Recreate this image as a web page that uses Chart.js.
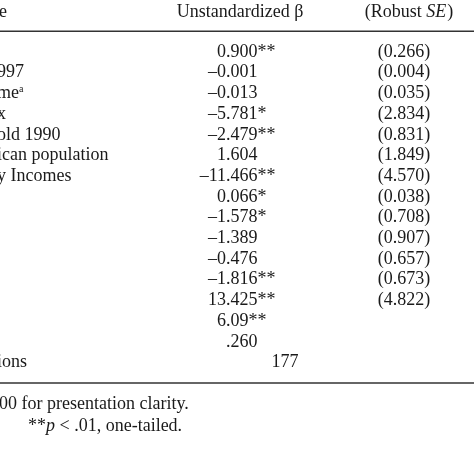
<!DOCTYPE html>
<html><head><meta charset="utf-8">
<script src="https://cdn.jsdelivr.net/npm/chart.js@4"></script>
<style>html,body{margin:0;padding:0;background:#fff}#w{width:474px;height:474px}</style>
</head><body><div id="w"><canvas id="c"></canvas></div>
<script>
const headers = ["e", "Unstandardized β", "(Robust SE)"];
const rowLabels = ["", "997", "me", "x", "old 1990", "ican population", "y Incomes", "", "", "", "", "", "", "", "", "ions"];
const betaInt = ["0", "–0", "–0", "–5", "–2", "1", "–11", "0", "–1", "–1", "–0", "–1", "13", "6", "", ""];
const betaFrac = [".900**", ".001", ".013", ".781*", ".479**", ".604", ".466**", ".066*", ".578*", ".389", ".476", ".816**", ".425**", ".09**", ".260", ""];
const seValues = ["(0.266)", "(0.004)", "(0.035)", "(2.834)", "(0.831)", "(1.849)", "(4.570)", "(0.038)", "(0.708)", "(0.907)", "(0.657)", "(0.673)", "(4.822)", "", "", ""];
const nValue = "177";
const footnotes = ["00 for presentation clarity.", "**", "p", " < .01, one-tailed."];

const F = '18px "Liberation Serif", "DejaVu Serif", serif';
const FI = 'italic 18px "Liberation Serif", "DejaVu Serif", serif';
const tablePlugin = {
  id: 'table',
  afterDraw(chart) {
    const ctx = chart.ctx, xs = chart.scales.x, ys = chart.scales.y;
    const X = v => xs.getPixelForValue(v), Y = v => ys.getPixelForValue(v);
    ctx.save();
    ctx.fillStyle = '#1a1a1a';
    ctx.textBaseline = 'middle';
    ctx.font = F;
    ctx.textAlign = 'left'; ctx.fillText(headers[0], X(-1), Y(-1.93));
    ctx.textAlign = 'center'; ctx.fillText(headers[1], X(240), Y(-1.93));
    ctx.textAlign = 'left';
    const a = ctx.measureText('(Robust ').width, b = ctx.measureText('SE').width, c = ctx.measureText(')').width;
    let sx = X(409) - (a + b + c) / 2;
    ctx.fillText('(Robust ', sx, Y(-1.93));
    ctx.font = FI; ctx.fillText('SE', sx + a, Y(-1.93));
    ctx.font = F; ctx.fillText(')', sx + a + b, Y(-1.93));
    ctx.strokeStyle = '#333'; ctx.lineWidth = 1.6;
    [-1.0, 15.99].forEach(r => { ctx.beginPath(); ctx.moveTo(X(0), Y(r)); ctx.lineTo(X(474), Y(r)); ctx.stroke(); });
    rowLabels.forEach((l, i) => {
      const y = Y(i);
      ctx.textAlign = 'left'; ctx.font = F;
      if (l) ctx.fillText(l, X(-3), y);
      if (i === 2) { const w = ctx.measureText('me').width; ctx.font = '10px "Liberation Serif", serif'; ctx.fillText('a', X(-3) + w, y - 4); ctx.font = F; }
      ctx.textAlign = 'right'; ctx.fillText(betaInt[i], X(226), y);
      ctx.textAlign = 'left'; ctx.fillText(betaFrac[i], X(226), y);
      ctx.textAlign = 'center'; if (seValues[i]) ctx.fillText(seValues[i], X(404), y);
    });
    ctx.textAlign = 'center'; ctx.fillText(nValue, X(285), Y(15));
    ctx.textAlign = 'left';
    ctx.fillText(footnotes[0], X(-1), Y(17.0));
    let fx = X(28);
    ctx.fillText(footnotes[1], fx, Y(18.06)); fx += ctx.measureText(footnotes[1]).width;
    ctx.font = FI; ctx.fillText(footnotes[2], fx, Y(18.06)); fx += ctx.measureText(footnotes[2]).width;
    ctx.font = F; ctx.fillText(footnotes[3], fx, Y(18.06));
    ctx.restore();
  }
};
new Chart(document.getElementById('c'), {
  type: 'scatter',
  data: { datasets: [{ data: [], pointRadius: 0 }] },
  options: {
    responsive: true, maintainAspectRatio: false, animation: false,
    layout: { padding: 0 },
    plugins: { legend: { display: false }, tooltip: { enabled: false } },
    scales: {
      x: { type: 'linear', min: 0, max: 474, display: false },
      y: { type: 'linear', min: -2.512, max: 20.386, reverse: true, display: false }
    }
  },
  plugins: [tablePlugin]
});
</script></body></html>
